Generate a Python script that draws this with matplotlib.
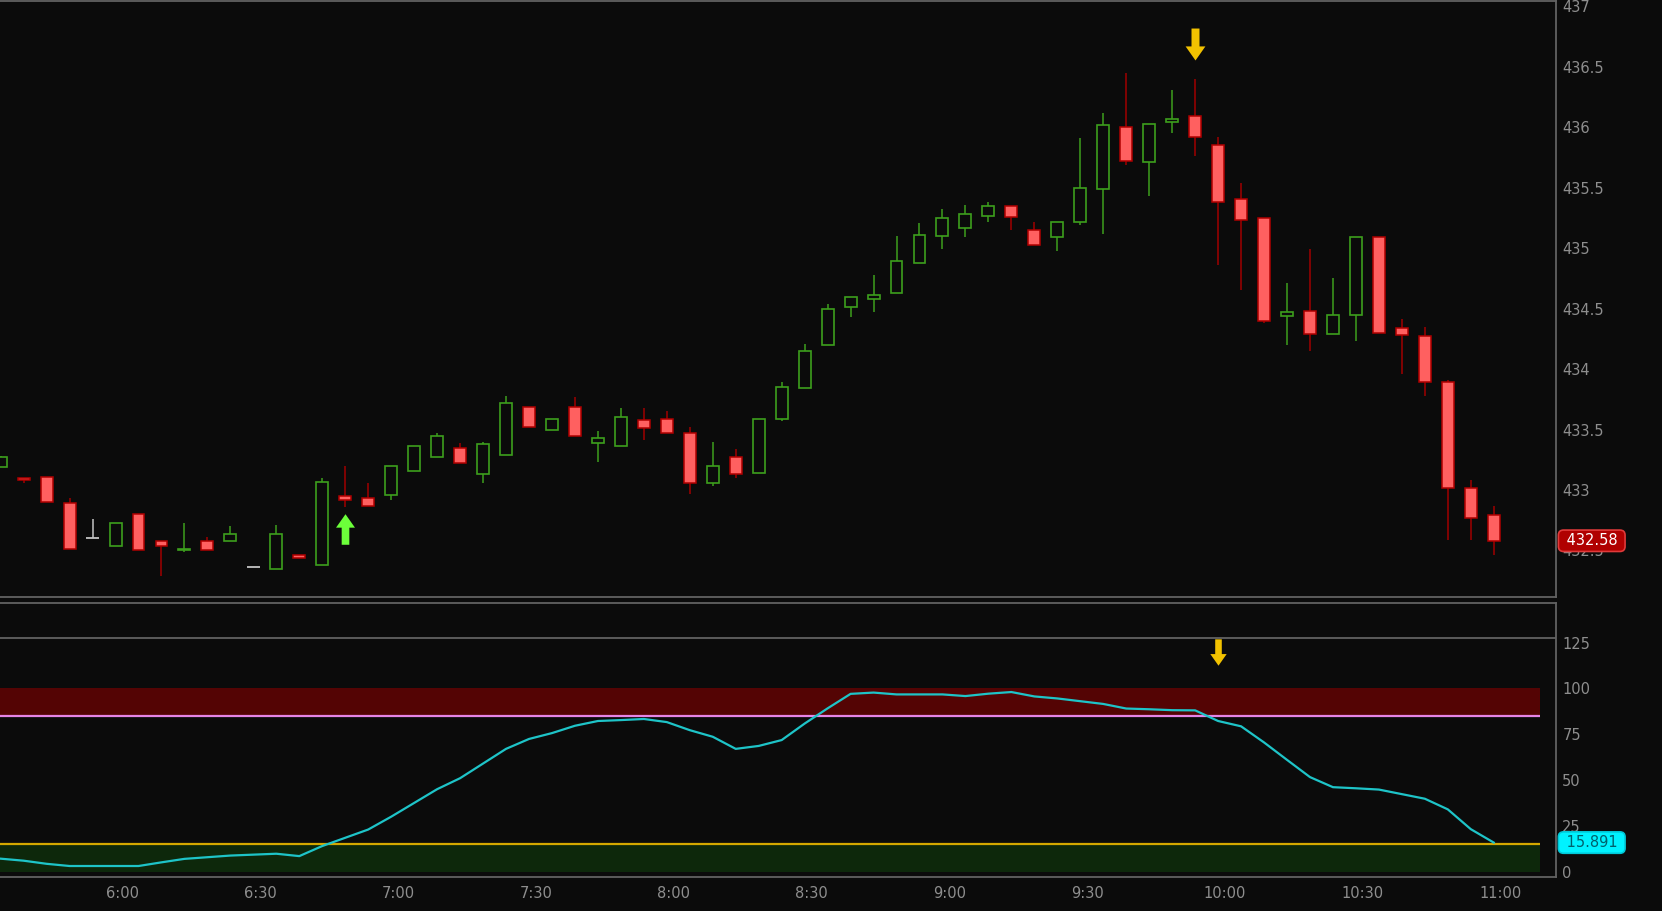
import numpy as np
import matplotlib
matplotlib.use("Agg")
import matplotlib.pyplot as plt
from matplotlib.path import Path
from matplotlib.transforms import offset_copy, blended_transform_factory

# ---------------- data ----------------
start_hour, start_min, bar_minutes = 5, 35, 5

opens = [433.19, 433.10, 433.11, 432.89, 432.60, 432.54, 432.80, 432.58, 432.50, 432.58,
         432.58, 432.36, 432.35, 432.46, 432.38, 432.95, 432.93, 432.96, 433.16, 433.27,
         433.35, 433.13, 433.29, 433.69, 433.50, 433.69, 433.39, 433.36, 433.58, 433.59,
         433.47, 433.06, 433.27, 433.14, 433.59, 433.84, 434.20, 434.51, 434.58, 434.63,
         434.88, 435.10, 435.17, 435.27, 435.35, 435.15, 435.09, 435.22, 435.49, 436.00,
         435.71, 436.04, 436.09, 435.85, 435.41, 435.25, 434.44, 434.48, 434.29, 434.45,
         435.09, 434.34, 434.27, 433.89, 433.02, 432.79]
highs = [433.28, 433.10, 433.11, 432.93, 432.76, 432.73, 432.80, 432.58, 432.73, 432.61,
         432.70, 432.36, 432.71, 432.46, 433.10, 433.20, 433.06, 433.20, 433.36, 433.47,
         433.39, 433.40, 433.78, 433.69, 433.59, 433.77, 433.49, 433.68, 433.68, 433.65,
         433.52, 433.40, 433.34, 433.59, 433.89, 434.21, 434.54, 434.60, 434.78, 435.10,
         435.21, 435.32, 435.36, 435.38, 435.35, 435.22, 435.22, 435.91, 436.12, 436.45,
         436.03, 436.31, 436.40, 435.92, 435.54, 435.25, 434.71, 434.99, 434.75, 435.09,
         435.09, 434.41, 434.35, 433.91, 433.08, 432.87]
lows = [433.19, 433.06, 432.90, 432.51, 432.60, 432.54, 432.50, 432.29, 432.49, 432.50,
        432.58, 432.36, 432.35, 432.44, 432.38, 432.86, 432.87, 432.92, 433.16, 433.27,
        433.22, 433.06, 433.29, 433.52, 433.50, 433.45, 433.23, 433.36, 433.41, 433.47,
        432.97, 433.03, 433.10, 433.14, 433.57, 433.84, 434.20, 434.43, 434.47, 434.63,
        434.88, 434.99, 435.09, 435.22, 435.15, 435.03, 434.98, 435.19, 435.12, 435.69,
        435.43, 435.95, 435.76, 434.86, 434.65, 434.38, 434.20, 434.15, 434.29, 434.23,
        434.30, 433.96, 433.78, 432.59, 432.59, 432.46]
closes = [433.27, 433.08, 432.90, 432.51, 432.60, 432.73, 432.50, 432.54, 432.51, 432.50,
          432.64, 432.36, 432.64, 432.44, 433.07, 432.92, 432.87, 433.20, 433.36, 433.45,
          433.22, 433.38, 433.72, 433.52, 433.59, 433.45, 433.43, 433.60, 433.51, 433.47,
          433.06, 433.20, 433.13, 433.59, 433.85, 434.15, 434.50, 434.60, 434.61, 434.89,
          435.11, 435.25, 435.28, 435.35, 435.26, 435.03, 435.22, 435.50, 436.02, 435.72,
          436.03, 436.07, 435.92, 435.38, 435.23, 434.40, 434.47, 434.29, 434.45, 435.09,
          434.30, 434.28, 433.89, 433.02, 432.77, 432.58]
oscillator = [7.1, 6.0, 4.3, 3.1, 3.1, 3.1, 3.1, 5.1, 7.0, 7.9,
              8.8, 9.3, 9.8, 8.5, 14.0, 18.5, 23.0, 30.0, 37.5, 45.0,
              51.0, 59.0, 67.0, 72.4, 75.6, 79.6, 82.2, 82.7, 83.3, 81.6,
              77.2, 73.6, 67.0, 68.6, 71.8, 80.8, 89.1, 97.0, 97.7, 96.7,
              96.7, 96.7, 95.8, 97.1, 98.0, 95.6, 94.5, 93.0, 91.5, 89.0,
              88.6, 88.1, 88.0, 82.2, 79.3, 70.5, 61.0, 51.6, 46.1, 45.5,
              44.8, 42.3, 39.8, 34.0, 23.2, 15.891]
overbought, overbought_top = 85, 100
oversold, oversold_bottom = 15, 0
buy_signal_bars = [15]
sell_signal_bars = [52]
osc_sell_signal_bars = [53]
price_ticks = [432.5, 433, 433.5, 434, 434.5, 435, 435.5, 436, 436.5, 437]
osc_ticks = [0, 25, 50, 75, 100, 125]

# ---------------- style ----------------
BG = "#0b0b0b"
GRID = "#626262"
TXT = "#8e8e8e"
UP = "#3d9f1d"
DN_FACE = "#ff6060"
DN_EDGE = "#b00000"
DN_WICK = "#a00000"
DOJI = "#c4c4c4"
FONT = "DejaVu Sans"
FS = 10.5

W, H = 1662, 911
fig = plt.figure(figsize=(W / 100, H / 100), dpi=100, facecolor=BG)
ax = fig.add_axes([0, 1 - 597 / H, 1556 / W, 596 / H])
ax2 = fig.add_axes([0, 1 - 876.7 / H, 1556 / W, (876.7 - 603.3) / H])

n = len(opens)
x = np.arange(n)
for a in (ax, ax2):
    a.set_facecolor(BG)
    a.set_xlim(-0.03, 67.71)
    for s in ("top", "right", "bottom"):
        a.spines[s].set_color(GRID)
        a.spines[s].set_linewidth(1.3)
    a.spines["left"].set_visible(False)
    a.yaxis.tick_right()
    a.tick_params(axis="y", length=0, pad=4.5, labelcolor=TXT, labelsize=FS)

ax.set_ylim(432.115, 437.044)
ax2.set_ylim(-2.73, 146.4)

# ---------------- candles ----------------
bw = 0.52
for i in range(n):
    o, h, l, c = opens[i], highs[i], lows[i], closes[i]
    if c > o:
        ax.vlines(i, l, h, color=UP, lw=1.1, zorder=2)
        ax.bar(i, c - o, bottom=o, width=bw, facecolor=BG, edgecolor=UP, lw=1.2, zorder=3)
    elif c < o:
        ax.vlines(i, l, h, color=DN_WICK, lw=1.1, zorder=2)
        ax.bar(i, o - c, bottom=c, width=bw, facecolor=DN_FACE, edgecolor=DN_EDGE, lw=1.1, zorder=3)
    else:
        ax.vlines(i, l, h, color=DOJI, lw=1.1, zorder=2)
        ax.hlines(o, i - bw / 2 - 0.02, i + bw / 2 + 0.02, color=DOJI, lw=1.3, zorder=3)

# ---------------- signal arrows ----------------
def arrow_path(up=True):
    v = [(0, 0.5), (0.31, 0.06), (0.125, 0.06), (0.125, -0.5), (-0.125, -0.5),
         (-0.125, 0.06), (-0.31, 0.06), (0, 0.5)]
    if not up:
        v = [(px, -py) for px, py in v]
    codes = [Path.MOVETO] + [Path.LINETO] * (len(v) - 2) + [Path.CLOSEPOLY]
    return Path(v, codes)

for b in buy_signal_bars:
    tr = offset_copy(ax.transData, fig=fig, y=-22, units="dots")
    ax.plot(b, lows[b], marker=arrow_path(True), markersize=22, color="#6cff3a",
            markeredgewidth=0, transform=tr, zorder=5, linestyle="none")
for b in sell_signal_bars:
    tr = offset_copy(ax.transData, fig=fig, y=35, units="dots")
    ax.plot(b, highs[b], marker=arrow_path(False), markersize=23, color="#f2c200",
            markeredgewidth=0, transform=tr, zorder=5, linestyle="none")
tr2 = blended_transform_factory(ax2.transData, ax2.transAxes)
for b in osc_sell_signal_bars:
    ax2.plot(b, 0.822, marker=arrow_path(False), markersize=19, color="#f2c200",
             markeredgewidth=0, transform=tr2, zorder=5, linestyle="none")

# ---------------- price axis ----------------
ax.set_yticks(price_ticks)
ax.set_yticklabels([f"{t:g}" for t in price_ticks], family=FONT)
ax.set_xticks([])
bt = blended_transform_factory(ax.transAxes, ax.transData)
ax.text(1.0036, closes[-1], f" {closes[-1]:.2f} ", transform=bt, ha="left", va="center",
        color="white", fontsize=FS, family=FONT, zorder=10, clip_on=False,
        bbox=dict(boxstyle="round,pad=0.22,rounding_size=0.35", fc="#b00000", ec="#e03a3a", lw=1.2))

# ---------------- oscillator ----------------
ax2.fill_between([-1, 67], overbought, overbought_top, color="#540404", lw=0, zorder=1)
ax2.fill_between([-1, 67], oversold_bottom, oversold, color="#0d280b", lw=0, zorder=1)
ax2.hlines(overbought, -1, 67, color="#e684e6", lw=1.6, zorder=2)
ax2.hlines(oversold, -1, 67, color="#d4a800", lw=1.6, zorder=2)
ax2.plot(x, oscillator, color="#1ec4c8", lw=1.6, zorder=4, solid_joinstyle="round")
ax2.axhline(127.3, color=GRID, lw=1.3, zorder=1)

ax2.set_yticks(osc_ticks)
ax2.set_yticklabels([str(t) for t in osc_ticks], family=FONT)
bt2 = blended_transform_factory(ax2.transAxes, ax2.transData)
ax2.text(1.0036, oscillator[-1], f" {oscillator[-1]:.3f} ", transform=bt2, ha="left", va="center",
         color="#00606c", fontsize=FS, family=FONT, zorder=10, clip_on=False,
         bbox=dict(boxstyle="round,pad=0.22,rounding_size=0.35", fc="#00f2ff", ec="#00c8d8", lw=1.2))

# time axis
minutes = [start_hour * 60 + start_min + bar_minutes * i for i in range(n)]
tick_idx = [i for i, m in enumerate(minutes) if m % 30 == 0]
tick_lbl = [f"{minutes[i] // 60}:{minutes[i] % 60:02d}" for i in tick_idx]
ax2.set_xticks([i + 0.3 for i in tick_idx])
ax2.set_xticklabels(tick_lbl, family=FONT)
ax2.tick_params(axis="x", length=0, pad=6.5, labelcolor=TXT, labelsize=FS)
# partially visible label before first bar
prev_m = minutes[0] - (minutes[0] % 30)
prev_pos = -(minutes[0] - prev_m) / bar_minutes + 0.3
ax2.text(prev_pos, -0.034, f"{prev_m // 60}:{prev_m % 60:02d}",
         transform=blended_transform_factory(ax2.transData, ax2.transAxes),
         ha="center", va="top", color=TXT, fontsize=FS, family=FONT, clip_on=False)

fig.savefig("out.png", dpi=100, facecolor=BG)
